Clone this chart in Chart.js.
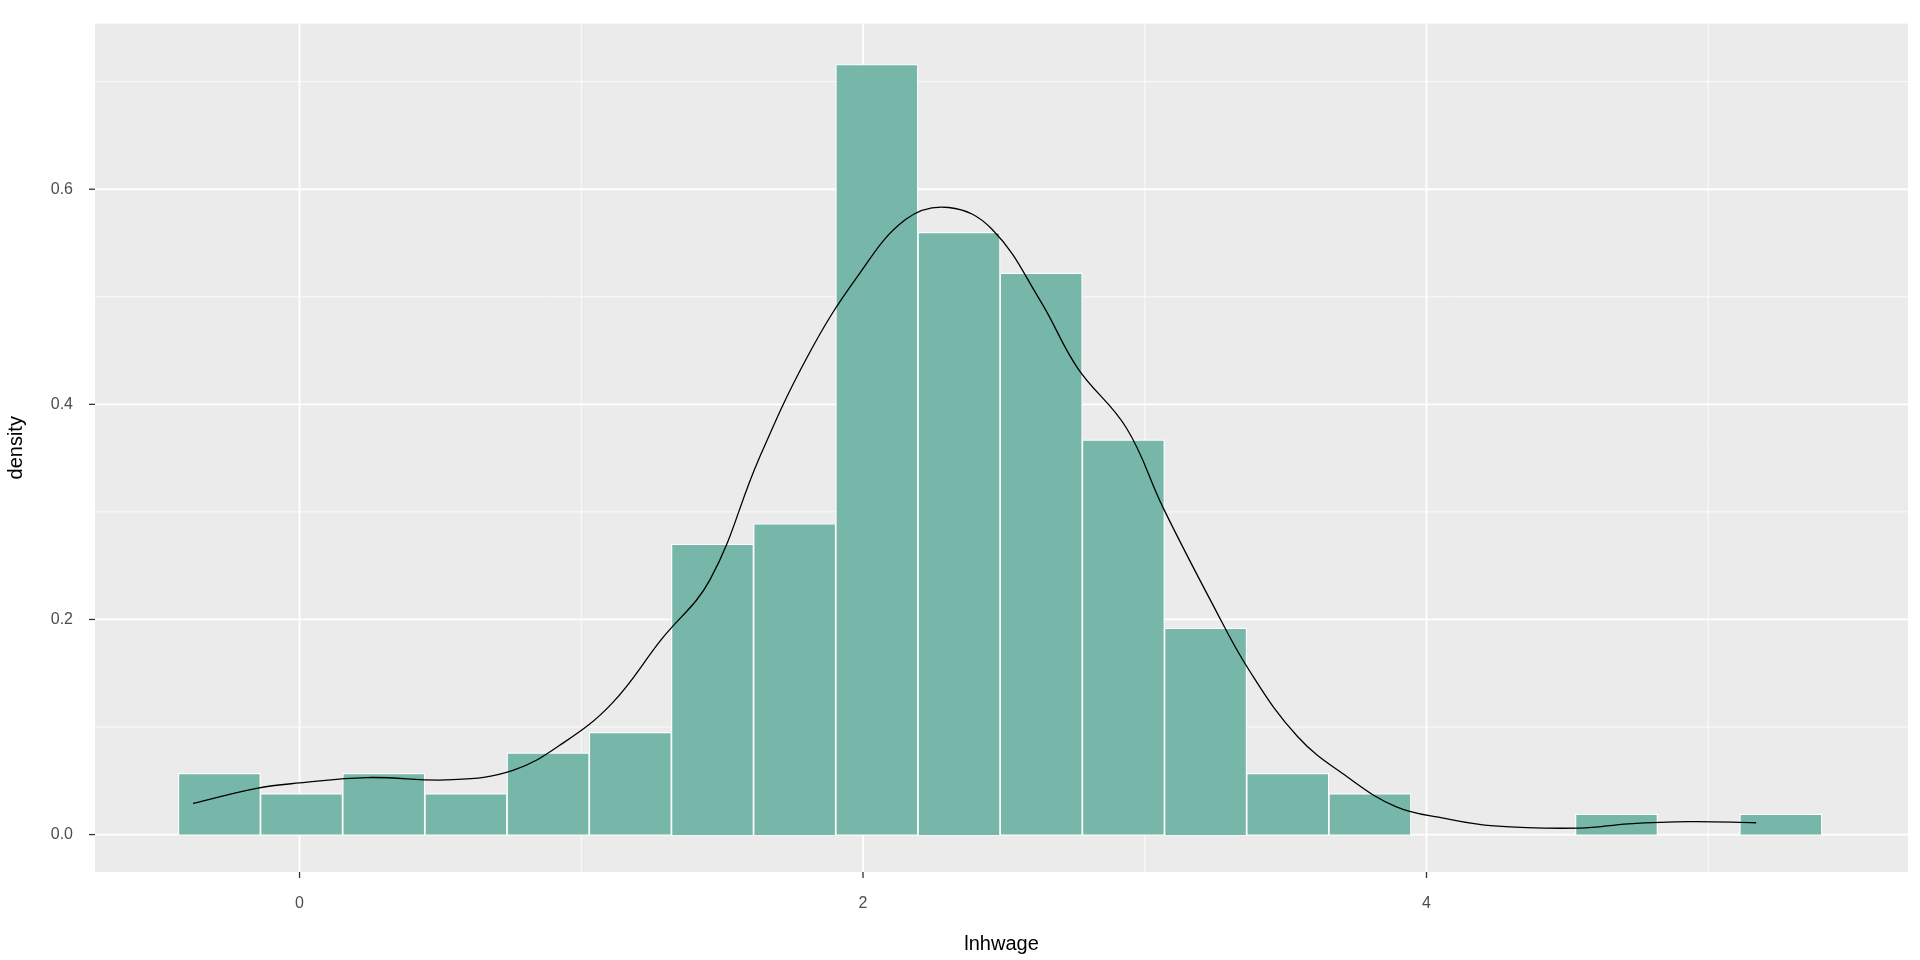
<!DOCTYPE html>
<html><head><meta charset="utf-8">
<script src="https://cdn.jsdelivr.net/npm/chart.js@4/dist/chart.umd.min.js"></script>
<style>html,body{margin:0;padding:0;background:#fff}</style>
</head><body>
<canvas id="c" width="1920" height="960"></canvas>
<script>
const binStart = -0.4304;
const binWidth = 0.2917;
const binDensity = [0.057,0.038,0.057,0.038,0.076,0.095,0.270,0.289,0.716,0.560,0.522,0.367,0.192,0.057,0.038,0,0,0.019,0,0.019];
const densX = [-0.378,-0.152,0,0.239,0.543,0.76,0.935,1.109,1.283,1.457,1.63,1.804,1.978,2.152,2.304,2.457,2.63,2.761,2.935,3.065,3.239,3.37,3.543,3.717,3.891,4.065,4.239,4.543,4.717,4.935,5.17];
const densY = [0.029,0.043,0.048,0.053,0.051,0.060,0.085,0.122,0.181,0.237,0.349,0.445,0.518,0.572,0.583,0.563,0.496,0.434,0.378,0.304,0.215,0.153,0.091,0.054,0.026,0.015,0.008,0.006,0.010,0.012,0.011];
const xLabels = [0,2,4];
const yLabels = [0,0.2,0.4,0.6];
const xGrid = [0,1,2,3,4,5];
const yGrid = [0,0.1,0.2,0.3,0.4,0.5,0.6,0.7];

const bars = binDensity.map((d,i)=>({x: binStart + binWidth*(i+0.5), y: d}));
const line = densX.map((x,i)=>({x, y: densY[i]}));

const isMajorX = v => Math.abs(v/2 - Math.round(v/2)) < 1e-6;
const isMajorY = v => Math.round(v*10) % 2 === 0;

const bgPlugin = {
  id:'bg',
  beforeDatasetsDraw(ch){
    const a = ch.chartArea, c = ch.ctx, xs = ch.scales.x, ys = ch.scales.y;
    c.save();
    c.fillStyle='#EBEBEB'; c.fillRect(a.left,a.top,a.right-a.left,a.bottom-a.top);
    c.strokeStyle='#ffffff';
    xGrid.forEach(v=>{const p=xs.getPixelForValue(v); c.lineWidth=isMajorX(v)?1.8:0.8; c.beginPath(); c.moveTo(p,a.top); c.lineTo(p,a.bottom); c.stroke();});
    yGrid.forEach(v=>{const p=ys.getPixelForValue(v); c.lineWidth=isMajorY(v)?1.8:0.8; c.beginPath(); c.moveTo(a.left,p); c.lineTo(a.right,p); c.stroke();});
    c.strokeStyle='#333333'; c.lineWidth=1.3;
    xLabels.forEach(v=>{const p=xs.getPixelForValue(v); c.beginPath(); c.moveTo(p,a.bottom); c.lineTo(p,a.bottom+6); c.stroke();});
    yLabels.forEach(v=>{const p=ys.getPixelForValue(v); c.beginPath(); c.moveTo(a.left-6,p); c.lineTo(a.left,p); c.stroke();});
    c.restore();
  }
};

new Chart(document.getElementById('c'), {
  type:'bar',
  data:{datasets:[
    {type:'line', data:line, borderColor:'#000', borderWidth:1.3, pointRadius:0, tension:0.4, fill:false, order:0},
    {type:'bar', data:bars, backgroundColor:'rgb(118,183,170)', borderColor:'#ffffff', borderWidth:1.2, barPercentage:1, categoryPercentage:1, grouped:false, order:1}
  ]},
  options:{
    responsive:false, animation:false,
    layout:{padding:{top:12,right:12,left:0,bottom:0}},
    plugins:{legend:{display:false}, tooltip:{enabled:false}},
    scales:{
      x:{type:'linear', min:-0.726, max:5.709, offset:false,
        afterBuildTicks(s){ s.ticks=xLabels.map(v=>({value:v})); },
        afterFit(s){ s.height = 88; },
        border:{display:false},
        grid:{display:false},
        ticks:{padding:14, color:'#4D4D4D', font:{family:'Liberation Sans', size:16}, maxRotation:0, autoSkip:false,
          callback:v=>String(v)},
        title:{display:true, text:'lnhwage', color:'#000', font:{family:'Liberation Sans', size:20}, padding:{top:6}}
      },
      y:{type:'linear', min:-0.0348, max:0.754,
        afterBuildTicks(s){ s.ticks=yLabels.map(v=>({value:v})); },
        afterFit(s){ s.width = 95; },
        border:{display:false},
        grid:{display:false},
        ticks:{padding:14, color:'#4D4D4D', font:{family:'Liberation Sans', size:16}, autoSkip:false,
          callback:v=>Number(v).toFixed(1)},
        title:{display:true, text:'density', color:'#000', font:{family:'Liberation Sans', size:20}}
      }
    }
  },
  plugins:[bgPlugin]
});
</script>
</body></html>
